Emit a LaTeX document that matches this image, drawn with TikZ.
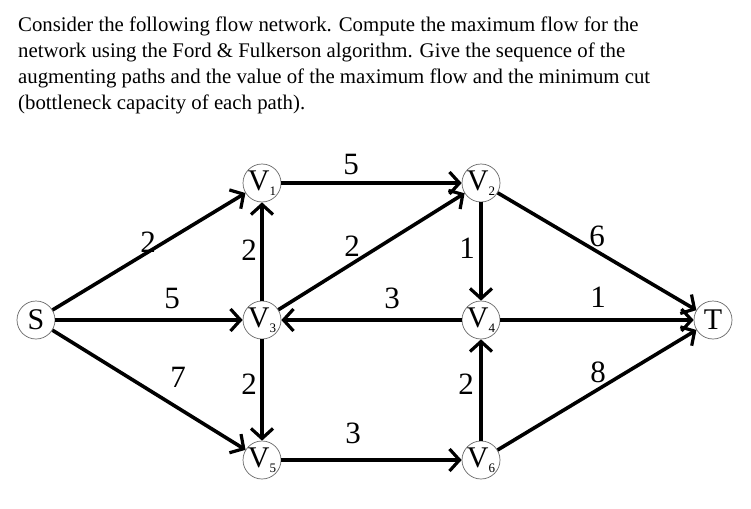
\documentclass[tikz,border=0pt]{standalone}
\usepackage{fontspec}
\setmainfont{Liberation Serif}
\usetikzlibrary{arrows.meta}
\begin{document}
\begin{tikzpicture}[x=1pt,y=-1pt,
  vx/.style={circle,draw=black!60,line width=0.7pt,minimum size=38pt,inner sep=0pt,font=\fontsize{30}{30}\selectfont},
  ed/.style={line width=3.6pt,-{Straight Barb[length=10pt,width=22pt,line width=3.2pt]}},
  lb/.style={font=\fontsize{31}{31}\selectfont,inner sep=0pt}]
\useasboundingbox (0,0) rectangle (751,508);
\node[anchor=north west,align=left,font=\fontsize{20.8}{26}\selectfont,inner sep=0pt] (q) at (18,17)
{Consider the following flow network. Compute the maximum flow for the\\ network using the Ford \& Fulkerson algorithm. Give the sequence of the\\ augmenting paths and the value of the maximum flow and the minimum cut\\ (bottleneck capacity of each path).};
\node[vx] (S) at (36,320) {S};
\node[vx] (V1) at (262,183) {V\raisebox{-5pt}{\fontsize{13}{13}\selectfont 1}};
\node[vx] (V2) at (481,183) {V\raisebox{-5pt}{\fontsize{13}{13}\selectfont 2}};
\node[vx] (V3) at (262,320) {V\raisebox{-5pt}{\fontsize{13}{13}\selectfont 3}};
\node[vx] (V4) at (481,320) {V\raisebox{-5pt}{\fontsize{13}{13}\selectfont 4}};
\node[vx] (V5) at (262,460) {V\raisebox{-5pt}{\fontsize{13}{13}\selectfont 5}};
\node[vx] (V6) at (481,460) {V\raisebox{-5pt}{\fontsize{13}{13}\selectfont 6}};
\node[vx] (T) at (713,320) {T};
\draw[ed] (S) -- (V1);
\draw[ed] (S) -- (V3);
\draw[ed] (S) -- (V5);
\draw[ed] (V1) -- (V2);
\draw[ed] (V3) -- (V1);
\draw[ed] (V3) -- (V2);
\draw[ed] (V2) -- (V4);
\draw[ed] (V4) -- (V3);
\draw[ed] (V3) -- (V5);
\draw[ed] (V5) -- (V6);
\draw[ed] (V6) -- (V4);
\draw[ed] (V2) -- (T);
\draw[ed] (V4) -- (T);
\draw[ed] (V6) -- (T);
\node[lb] (l1) at (148,242) {2};
\node[lb] (l2) at (172,298) {5};
\node[lb] (l3) at (178,377) {7};
\node[lb] (l4) at (351,165) {5};
\node[lb] (l5) at (249,250) {2};
\node[lb] (l6) at (352,246) {2};
\node[lb] (l7) at (467,248) {1};
\node[lb] (l8) at (392,298) {3};
\node[lb] (l9) at (249,384) {2};
\node[lb] (l10) at (353,433) {3};
\node[lb] (l11) at (466,384) {2};
\node[lb] (l12) at (597,236) {6};
\node[lb] (l13) at (598,297) {1};
\node[lb] (l14) at (598,372) {8};
\end{tikzpicture}
\end{document}
